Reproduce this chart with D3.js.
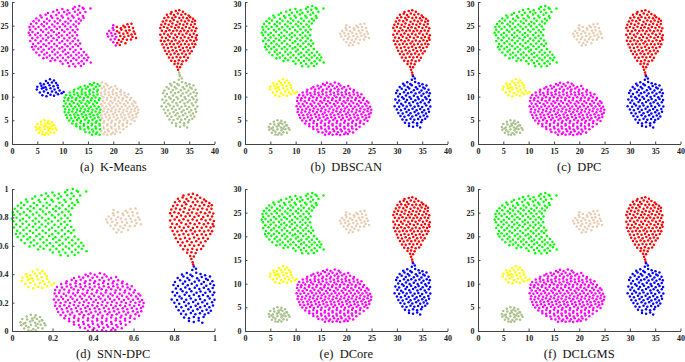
<!DOCTYPE html>
<html>
<head>
<meta charset="utf-8">
<script src="https://cdn.jsdelivr.net/npm/d3@7"></script>
<style>
  body { margin: 0; background: #fff; }
  text { font-family: "Liberation Serif", "DejaVu Serif", serif; }
</style>
</head>
<body>
<svg id="chart" width="685" height="362"></svg>
<script>
// ---- points, grouped by the true cluster they belong to ----
var crescent = [
  [12.4,28.95],[13.3,29.15],[13.95,28.8],
  [8.9,28.3],[9.95,28.5],[11.0,28.25],[12.05,28.55],[13.1,28.35],[14.15,28.6],[15.5,28.65],
  [7.1,27.7],[8.15,27.95],[9.25,27.75],[10.3,27.9],[11.35,27.7],[12.4,27.95],[13.45,27.75],[14.5,27.9],
  [5.6,27.15],[6.65,27.3],[7.7,27.05],[8.75,27.25],[9.8,27.1],[10.85,27.35],[11.9,27.1],[12.95,27.3],[14.0,27.05],
  [4.8,26.5],[5.85,26.7],[6.9,26.45],[7.95,26.65],[9.0,26.5],[10.05,26.75],[11.1,26.5],[12.15,26.7],[13.2,26.45],[14.15,26.6],
  [4.25,25.95],[5.3,26.1],[6.35,25.85],[7.4,26.05],[8.45,25.9],[9.5,26.1],[10.55,25.85],[11.6,26.05],[12.65,25.9],[13.6,26.1],
  [3.75,25.35],[4.8,25.5],[5.85,25.3],[6.9,25.45],[7.95,25.25],[9.0,25.5],[10.05,25.3],[11.1,25.45],[12.15,25.25],[13.2,25.45],
  [3.45,24.7],[4.2,24.85],[5.25,24.7],[6.3,24.9],[7.35,24.65],[8.4,24.85],[9.45,24.7],[10.5,24.9],[11.55,24.7],[12.6,24.85],
  [3.6,24.15],[4.65,24.3],[5.7,24.1],[6.75,24.25],[7.8,24.05],[8.85,24.3],[9.9,24.1],[10.95,24.25],[12.0,24.05],[12.95,24.2],
  [3.3,23.5],[4.05,23.65],[5.1,23.45],[6.15,23.7],[7.2,23.5],[8.25,23.65],[9.3,23.45],[10.35,23.7],[11.4,23.5],[12.45,23.6],
  [3.55,22.95],[4.6,23.1],[5.65,22.9],[6.7,23.05],[7.75,22.85],[8.8,23.1],[9.85,22.9],[10.9,23.05],[11.95,22.85],[12.85,23.0],
  [4.0,22.35],[5.05,22.5],[6.1,22.3],[7.15,22.5],[8.2,22.35],[9.25,22.55],[10.3,22.3],[11.35,22.45],[12.4,22.3],
  [3.6,21.75],[4.65,21.9],[5.7,21.7],[6.75,21.9],[7.8,21.75],[8.85,21.95],[9.9,21.7],[10.95,21.85],[12.0,21.7],[13.05,21.85],
  [4.15,21.15],[5.2,21.3],[6.25,21.1],[7.3,21.3],[8.35,21.15],[9.4,21.35],[10.45,21.1],[11.5,21.25],[12.55,21.05],[13.45,21.25],
  [3.95,20.5],[4.65,20.65],[5.7,20.5],[6.75,20.7],[7.8,20.5],[8.85,20.7],[9.9,20.45],[10.95,20.65],[12.0,20.5],[13.05,20.7],
  [4.25,19.95],[5.2,20.1],[6.25,19.9],[7.3,20.1],[8.35,19.95],[9.4,20.15],[10.45,19.9],[11.5,20.05],[12.55,19.85],[13.6,20.05],
  [4.8,19.35],[5.85,19.5],[6.9,19.3],[7.95,19.5],[9.0,19.35],[10.05,19.55],[11.1,19.3],[12.15,19.45],[13.2,19.3],[14.2,19.45],
  [5.4,18.75],[6.4,18.9],[7.45,18.7],[8.5,18.9],[9.55,18.75],[10.6,18.95],[11.65,18.7],[12.7,18.85],[13.75,18.7],[14.7,18.85],
  [6.2,18.1],[6.9,18.3],[7.95,18.1],[9.0,18.3],[10.05,18.15],[11.1,18.35],[12.15,18.1],[13.2,18.3],[14.25,18.1],[15.05,18.25],
  [7.6,17.55],[8.5,17.7],[9.55,17.5],[10.6,17.7],[11.65,17.55],[12.7,17.75],[13.75,17.5],[14.8,17.7],
  [10.0,16.95],[11.05,17.1],[12.1,16.9],[13.15,17.05],[14.2,16.95],[15.55,17.2],
  [11.3,16.45],[12.5,16.35],[13.6,16.5]
];

var topMid = [
  [20.0,25.1],[22.0,25.0],[22.8,25.3],[23.6,25.4],
  [19.9,24.5],[20.7,24.7],[21.5,24.45],[22.3,24.65],[23.1,24.7],[23.9,24.5],
  [19.2,23.85],[20.05,24.1],[20.75,23.8],[21.6,24.15],[22.5,23.95],[23.2,24.05],[24.05,23.75],
  [18.8,23.3],[19.6,23.45],[20.4,23.25],[21.2,23.5],[22.0,23.3],[22.8,23.45],[23.6,23.15],[24.3,23.3],
  [19.0,22.7],[19.8,22.85],[20.6,22.6],[21.4,22.8],[22.2,22.65],[23.0,22.85],[23.8,22.6],[24.5,22.4],
  [19.5,22.1],[20.3,22.2],[21.1,21.95],[21.9,22.2],[22.7,22.0],[23.5,22.1],
  [20.0,21.5],[20.8,21.35],[21.6,21.6],[22.4,21.3],
  [20.5,20.8],[21.3,20.9]
];

var rightTop = [
  [31.5,27.9],[32.35,28.1],[33.05,28.25],[33.75,27.95],
  [30.6,27.3],[31.35,27.5],[32.0,27.25],[32.75,27.55],[33.45,27.3],[34.25,27.45],[34.9,27.15],
  [30.1,26.6],[30.85,26.8],[31.65,26.6],[32.3,26.85],[33.05,26.6],[33.8,26.75],[34.55,26.55],[35.2,26.8],[35.75,26.45],
  [29.8,25.9],[30.5,26.1],[31.25,25.95],[31.95,26.2],[32.7,25.85],[33.45,26.1],[34.15,25.9],[34.9,26.1],[35.6,25.85],[36.15,26.05],
  [29.5,25.2],[30.25,25.4],[30.95,25.2],[31.7,25.45],[32.45,25.15],[33.15,25.35],[33.85,25.2],[34.6,25.4],[35.35,25.2],[36.1,25.35],
  [29.3,24.5],[30.0,24.7],[30.7,24.5],[31.5,24.75],[32.2,24.5],[32.9,24.65],[33.65,24.45],[34.35,24.7],[35.05,24.5],[35.8,24.7],[36.4,24.45],
  [29.6,23.95],[30.4,23.8],[31.1,24.05],[31.85,23.85],[32.55,24.0],[33.3,23.8],[34.0,24.0],[34.75,23.8],[35.5,24.0],[36.2,23.85],
  [29.3,23.1],[30.05,23.3],[30.8,23.1],[31.5,23.35],[32.25,23.1],[33.0,23.3],[33.7,23.1],[34.45,23.35],[35.15,23.1],[35.9,23.3],[36.5,23.0],
  [29.65,22.5],[30.4,22.4],[31.15,22.65],[31.9,22.4],[32.6,22.6],[33.35,22.4],[34.1,22.6],[34.85,22.4],[35.55,22.6],[36.3,22.45],
  [29.4,21.8],[30.1,21.7],[30.85,21.9],[31.55,21.7],[32.3,21.9],[33.05,21.65],[33.75,21.85],[34.5,21.7],[35.25,21.9],[35.95,21.75],[36.45,22.0],
  [29.7,21.1],[30.5,21.0],[31.2,21.2],[31.95,21.05],[32.7,21.25],[33.4,21.0],[34.15,21.15],[34.9,21.0],[35.6,21.2],[36.2,21.05],
  [30.0,20.4],[30.8,20.3],[31.5,20.5],[32.3,20.35],[33.0,20.55],[33.75,20.3],[34.5,20.45],[35.2,20.3],[35.9,20.5],
  [30.25,19.7],[31.0,19.55],[31.75,19.8],[32.5,19.6],[33.25,19.85],[34.0,19.6],[34.75,19.75],[35.5,19.6],
  [30.6,19.0],[31.35,18.9],[32.1,19.1],[32.85,18.95],[33.6,19.1],[34.35,18.9],[35.1,19.1],
  [31.0,18.3],[31.75,18.2],[32.5,18.4],[33.25,18.25],[34.0,18.4],[34.75,18.2],
  [31.45,17.6],[32.2,17.5],[32.95,17.7],[33.7,17.5],[34.4,17.65],
  [32.1,16.9],[32.8,17.0],[33.5,16.85],
  [32.6,16.3],[33.2,16.2],
  [32.8,15.7],[33.0,15.1],[33.1,14.65]
];

var rightBottom = [
  [33.2,14.3],[32.95,13.6],[33.55,13.85],
  [31.25,12.75],[32.05,13.05],[32.65,12.7],[33.6,13.1],[34.3,12.85],[35.05,12.6],
  [30.55,12.05],[31.5,12.35],[32.15,12.05],[32.95,12.4],[33.75,12.0],[34.5,12.25],[35.2,11.95],[35.85,12.35],
  [30.1,11.3],[30.95,11.65],[31.75,11.4],[32.45,11.7],[33.35,11.35],[34.05,11.6],[34.85,11.3],[35.5,11.7],[36.25,11.45],
  [29.85,10.75],[30.6,10.55],[31.4,10.95],[32.2,10.7],[32.85,10.95],[33.7,10.65],[34.45,10.9],[35.25,10.6],[35.9,10.95],[36.5,10.7],
  [30.25,10.05],[31.05,9.9],[31.8,10.25],[32.5,9.95],[33.35,10.2],[34.1,9.95],[34.85,10.2],[35.6,9.9],[36.3,10.15],
  [29.7,9.4],[30.45,9.2],[31.35,9.55],[32.0,9.3],[32.8,9.55],[33.65,9.25],[34.3,9.5],[35.1,9.25],[35.85,9.5],[36.55,9.3],
  [30.1,8.7],[30.85,8.5],[31.7,8.85],[32.45,8.6],[33.2,8.85],[34.05,8.55],[34.7,8.8],[35.5,8.55],[36.3,8.8],
  [29.55,7.95],[30.45,7.85],[31.2,8.15],[31.95,7.9],[32.7,8.15],[33.5,7.85],[34.25,8.05],[35.0,7.8],[35.8,8.15],[36.6,7.9],
  [30.0,7.3],[30.8,7.15],[31.6,7.45],[32.35,7.2],[33.1,7.45],[33.9,7.15],[34.6,7.4],[35.4,7.15],[36.2,7.4],
  [30.3,6.55],[31.15,6.45],[31.9,6.75],[32.7,6.5],[33.5,6.75],[34.25,6.45],[35.0,6.7],[35.75,6.45],[36.35,6.8],
  [30.7,5.9],[31.5,5.75],[32.3,6.05],[33.05,5.8],[33.8,6.05],[34.6,5.75],[35.3,6.0],[36.0,5.8],
  [31.1,5.2],[31.9,5.05],[32.7,5.35],[33.45,5.1],[34.2,5.3],[35.0,5.05],[35.6,5.35],
  [31.6,4.5],[32.4,4.35],[33.2,4.6],[34.0,4.4],[34.8,4.6],
  [32.4,3.8],[33.2,3.65],[34.0,3.9],[34.6,3.5]
];

var big = [
  [15.4,12.7],[16.2,12.95],[16.9,12.7],[17.75,13.0],[18.5,12.75],
  [13.5,12.05],[14.35,12.3],[15.0,12.1],[15.8,12.4],[16.55,12.1],[17.3,12.3],[18.15,12.1],[18.85,12.35],[19.6,12.05],[20.4,12.25],
  [12.3,11.45],[13.1,11.7],[13.85,11.5],[14.6,11.75],[15.4,11.45],[16.15,11.65],[16.95,11.45],[17.7,11.7],[18.45,11.5],[19.2,11.75],[20.0,11.45],[20.75,11.65],[21.5,11.4],
  [11.4,10.9],[12.2,11.05],[12.9,10.8],[13.75,11.05],[14.5,10.85],[15.25,11.1],[16.05,10.9],[16.8,11.1],[17.55,10.85],[18.3,11.1],[19.1,10.9],[19.85,11.05],[20.6,10.8],[21.4,11.05],[22.2,10.85],
  [10.7,10.35],[11.5,10.25],[12.3,10.45],[13.05,10.25],[13.8,10.5],[14.6,10.3],[15.35,10.5],[16.1,10.25],[16.9,10.45],[17.65,10.25],[18.4,10.5],[19.2,10.3],[19.95,10.5],[20.7,10.25],[21.5,10.45],[22.3,10.25],[23.0,10.5],
  [10.4,9.75],[11.15,9.65],[11.9,9.85],[12.7,9.65],[13.45,9.9],[14.2,9.7],[15.0,9.9],[15.75,9.65],[16.5,9.85],[17.3,9.65],[18.05,9.9],[18.8,9.7],[19.6,9.9],[20.35,9.65],[21.1,9.85],[21.9,9.65],[22.7,9.9],[23.5,9.7],
  [10.3,9.1],[11.05,9.25],[11.8,9.05],[12.6,9.3],[13.35,9.1],[14.1,9.3],[14.9,9.05],[15.65,9.25],[16.4,9.05],[17.2,9.3],[17.95,9.1],[18.7,9.3],[19.5,9.05],[20.25,9.25],[21.0,9.05],[21.8,9.3],[22.55,9.1],[23.3,9.3],[24.1,9.05],
  [10.6,8.55],[11.4,8.45],[12.2,8.65],[12.95,8.45],[13.7,8.7],[14.5,8.5],[15.25,8.7],[16.0,8.45],[16.8,8.65],[17.55,8.45],[18.3,8.7],[19.1,8.5],[19.85,8.7],[20.6,8.45],[21.4,8.65],[22.15,8.45],[22.9,8.7],[23.7,8.5],[24.4,8.7],
  [10.2,7.95],[10.95,7.85],[11.7,8.05],[12.5,7.85],[13.25,8.1],[14.0,7.9],[14.8,8.1],[15.55,7.85],[16.3,8.05],[17.1,7.85],[17.85,8.1],[18.6,7.9],[19.4,8.1],[20.15,7.85],[20.9,8.05],[21.7,7.85],[22.45,8.1],[23.2,7.9],[24.0,8.1],[24.7,7.85],
  [10.5,7.35],[11.3,7.25],[12.1,7.45],[12.85,7.25],[13.6,7.5],[14.4,7.3],[15.15,7.5],[15.9,7.25],[16.7,7.45],[17.45,7.25],[18.2,7.5],[19.0,7.3],[19.75,7.5],[20.5,7.25],[21.3,7.45],[22.05,7.25],[22.8,7.5],[23.6,7.3],[24.3,7.5],[24.95,7.25],
  [10.4,6.75],[11.15,6.65],[11.9,6.85],[12.7,6.65],[13.45,6.9],[14.2,6.7],[15.0,6.9],[15.75,6.65],[16.5,6.85],[17.3,6.65],[18.05,6.9],[18.8,6.7],[19.6,6.9],[20.35,6.65],[21.1,6.85],[21.9,6.65],[22.65,6.9],[23.4,6.7],[24.2,6.9],[24.85,6.6],
  [10.7,6.15],[11.5,6.05],[12.3,6.25],[13.05,6.05],[13.8,6.3],[14.6,6.1],[15.35,6.3],[16.1,6.05],[16.9,6.25],[17.65,6.05],[18.4,6.3],[19.2,6.1],[19.95,6.3],[20.7,6.05],[21.5,6.25],[22.25,6.05],[23.0,6.3],[23.8,6.1],[24.5,6.3],
  [10.9,5.55],[11.7,5.45],[12.45,5.65],[13.2,5.45],[14.0,5.7],[14.75,5.5],[15.5,5.7],[16.3,5.45],[17.05,5.65],[17.8,5.45],[18.6,5.7],[19.35,5.5],[20.1,5.7],[20.9,5.45],[21.65,5.65],[22.4,5.45],[23.2,5.7],[23.95,5.5],[24.55,5.7],
  [11.3,4.95],[12.1,4.85],[12.85,5.05],[13.6,4.85],[14.4,5.1],[15.15,4.9],[15.9,5.1],[16.7,4.85],[17.45,5.05],[18.2,4.85],[19.0,5.1],[19.75,4.9],[20.5,5.1],[21.3,4.85],[22.05,5.05],[22.8,4.85],[23.6,5.1],[24.2,4.85],
  [11.9,4.35],[12.7,4.25],[13.5,4.45],[14.25,4.25],[15.0,4.5],[15.8,4.3],[16.55,4.5],[17.3,4.25],[18.1,4.45],[18.85,4.25],[19.6,4.5],[20.4,4.3],[21.15,4.5],[21.9,4.25],[22.7,4.45],[23.45,4.25],
  [12.7,3.75],[13.45,3.65],[14.2,3.85],[15.0,3.65],[15.75,3.9],[16.5,3.7],[17.3,3.9],[18.05,3.65],[18.8,3.85],[19.6,3.65],[20.35,3.9],[21.1,3.7],[21.9,3.9],[22.65,3.65],
  [13.5,3.15],[14.3,3.05],[15.1,3.25],[15.85,3.05],[16.6,3.3],[17.4,3.1],[18.15,3.3],[18.9,3.05],[19.7,3.25],[20.45,3.05],[21.2,3.3],[22.0,3.1],
  [14.5,2.55],[15.3,2.45],[16.05,2.65],[16.8,2.45],[17.6,2.7],[18.35,2.5],[19.1,2.7],[19.9,2.45],[20.65,2.65],[21.35,2.45],
  [15.8,1.95],[16.55,2.1],[17.3,1.95],[18.1,2.05],[18.8,1.9],[19.6,2.05],[20.3,2.1]
];

var smallMid = [
  [7.5,13.7],[8.3,13.4],[6.7,13.3],[7.9,13.0],
  [5.6,12.8],[6.3,12.6],[7.1,12.9],[8.7,12.9],
  [5.0,12.1],[5.8,12.3],[6.6,12.0],[7.4,12.4],[8.2,12.2],[9.0,12.4],
  [4.9,11.5],[5.9,11.7],[6.8,11.5],[7.6,11.8],[8.4,11.5],[9.1,11.9],
  [5.5,10.9],[6.3,11.1],[7.1,10.8],[7.9,11.1],[8.7,10.9],[9.4,11.3],
  [6.0,10.3],[6.8,10.1],[7.6,10.4],[8.3,10.2],[9.1,10.5],[9.8,10.7],[10.2,11.0],[6.2,11.9]
];

var smallLow = [
  [6.4,5.0],[7.2,4.9],[5.7,4.7],[7.9,4.6],[7.0,4.5],
  [5.0,4.2],[5.8,4.1],[6.6,4.3],[7.4,4.2],[8.2,4.0],[6.7,3.9],
  [4.7,3.6],[5.5,3.5],[6.3,3.7],[7.1,3.5],[7.8,3.7],[8.6,3.4],[8.3,3.9],
  [4.8,3.0],[5.6,2.9],[6.4,3.1],[7.2,2.9],[8.0,3.1],[8.8,3.0],[5.2,3.3],[7.5,3.25],
  [5.3,2.4],[6.0,2.6],[6.8,2.3],[7.6,2.5],[8.3,2.4],[6.0,2.0],[6.5,1.95],[7.2,2.0]
];

var xTicks = [0, 5, 10, 15, 20, 25, 30, 35, 40];
var yTicks = [0, 5, 10, 15, 20, 25, 30];
var unitTicks = [0, 0.2, 0.4, 0.6, 0.8, 1];

var palette = {
  green: "#00ff00", magenta: "#ff00ff", red: "#ff0000", blue: "#0000ff",
  yellow: "#ffff00", tan: "#e8ccb1", olive: "#a9c08b"
};

var clusters = [
  { name: "crescent", pts: crescent },
  { name: "topMid", pts: topMid },
  { name: "rightTop", pts: rightTop },
  { name: "rightBottom", pts: rightBottom },
  { name: "big", pts: big },
  { name: "smallMid", pts: smallMid },
  { name: "smallLow", pts: smallLow }
];

// colour each algorithm gave to each cluster; [axis, cut, below, above] where k-means split one
var goodResult = { crescent: "green", topMid: "tan", rightTop: "red", rightBottom: "blue",
                   big: "magenta", smallMid: "yellow", smallLow: "olive" };
var kmeansResult = { crescent: "magenta", topMid: ["x", 20.65, "magenta", "red"],
                     rightTop: ["y", 15.4, "olive", "red"], rightBottom: "olive",
                     big: ["x", 17.5, "green", "tan"], smallMid: "blue", smallLow: "yellow" };

var panels = [
  { title: "(a)  K-Means",  labels: kmeansResult, col: 0, row: 0, norm: false },
  { title: "(b)  DBSCAN",   labels: goodResult,   col: 1, row: 0, norm: false },
  { title: "(c)  DPC",      labels: goodResult,   col: 2, row: 0, norm: false },
  { title: "(d)  SNN-DPC",  labels: goodResult,   col: 0, row: 1, norm: true },
  { title: "(e)  DCore",    labels: goodResult,   col: 1, row: 1, norm: false },
  { title: "(f)  DCLGMS",   labels: goodResult,   col: 2, row: 1, norm: false }
];

// flatten with cluster name
var allPoints = [];
clusters.forEach(function(c) {
  c.pts.forEach(function(p) { allPoints.push({ x: p[0], y: p[1], cluster: c.name }); });
});

// min-max normalisation used by SNN-DPC
var xExt = d3.extent(allPoints, d => d.x), yExt = d3.extent(allPoints, d => d.y);

function colorOf(labels, d) {
  var l = labels[d.cluster];
  if (Array.isArray(l)) {
    var v = l[0] === "x" ? d.x : d.y;
    return palette[v < l[1] ? l[2] : l[3]];
  }
  return palette[l];
}

var lefts = [12, 245, 478], bottoms = [144, 331];
var width = 202.5, height = 142;

var svg = d3.select("#chart");

panels.forEach(function(p) {
  var g = svg.append("g")
    .attr("transform", "translate(" + lefts[p.col] + "," + (bottoms[p.row] - height) + ")");

  var x = d3.scaleLinear().domain(p.norm ? [0, 1] : [0, 40]).range([0, width]);
  var y = d3.scaleLinear().domain(p.norm ? [0, 1] : [0, 30]).range([height, 0]);

  var fx = p.norm ? (d => (d.x - xExt[0]) / (xExt[1] - xExt[0])) : (d => d.x);
  var fy = p.norm ? (d => (d.y - yExt[0]) / (yExt[1] - yExt[0])) : (d => d.y);

  g.selectAll("circle")
    .data(allPoints)
    .enter().append("circle")
    .attr("cx", d => x(fx(d)))
    .attr("cy", d => y(fy(d)))
    .attr("r", 1.25)
    .style("fill", d => colorOf(p.labels, d));

  var fmt = d3.format("~g");
  var xAxis = g.append("g")
    .attr("transform", "translate(0," + height + ")")
    .call(d3.axisBottom(x).tickValues(p.norm ? unitTicks : xTicks)
      .tickFormat(fmt).tickSizeInner(-2.5).tickSizeOuter(0).tickPadding(4.5));
  var yAxis = g.append("g")
    .call(d3.axisLeft(y).tickValues(p.norm ? unitTicks : yTicks)
      .tickFormat(fmt).tickSizeInner(-2.5).tickSizeOuter(0).tickPadding(3.5));

  [xAxis, yAxis].forEach(function(a) {
    a.select(".domain").attr("stroke", "#444");
    a.selectAll(".tick line").attr("stroke", "#444");
    a.selectAll("text")
      .style("font-family", "'Liberation Serif', serif")
      .style("font-size", "8px")
      .style("font-weight", "bold")
      .attr("fill", "#222");
  });

  // keep the top y label inside the window
  if (p.row === 0) {
    yAxis.selectAll(".tick text").filter(d => d === 30).attr("dy", "0.62em");
  }

  g.append("text")
    .attr("x", width / 2)
    .attr("y", height + 27)
    .attr("text-anchor", "middle")
    .style("font-size", "12.5px")
    .style("white-space", "pre")
    .attr("fill", "#111")
    .text(p.title);
});
</script>
</body>
</html>
